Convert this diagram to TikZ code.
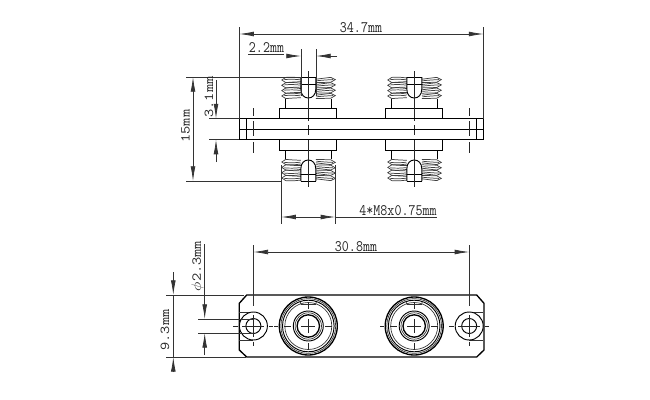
\documentclass[tikz,border=0pt]{standalone}
\usepackage{fontspec}
\usetikzlibrary{arrows.meta}
\tikzset{
  px/.style={x=0.75pt,y=-0.75pt},
  thinline/.style={line width=0.5pt,draw=black!80},
  part/.style={line width=0.7pt,draw=black},
  heavy/.style={line width=1pt,draw=black},
  threadline/.style={line width=0.55pt,draw=black!75},
  dimarrow/.style={line width=0.55pt,draw=black!80,
    {Latex[length=11pt,width=3.6pt]}-{Latex[length=11pt,width=3.6pt]}},
  endarrow/.style={line width=0.55pt,draw=black!80,-{Latex[length=11pt,width=3.6pt]}},
  dimtext/.style={font=\ttfamily\fontsize{12}{12}\selectfont,inner sep=0pt,text=black!85,xscale=0.85},
  centerline/.style={line width=0.5pt,draw=black!85}
}
\newcommand{\threadset}{%
  \foreach \t in {3,8.3,13.6,19}{
    \draw[threadline] (-7.5,\t-2) .. controls (-14,\t-3) and (-19,\t-3) .. (-22.5,\t-2.6) -- (-26.5,\t) -- (-22.5,\t+2.6) .. controls (-18,\t+2.2) and (-12,\t+1.8) .. (-7.5,\t+1.8);
    \draw[threadline] (-24,\t-0.4) .. controls (-18,\t-1) and (-13,\t-0.8) .. (-8,\t-0.2);
    \draw[threadline] (7.5,\t-0.8) .. controls (13,\t-1.4) and (18,\t-2.2) .. (22.5,\t-2.6) -- (27,\t-0.4) -- (22.5,\t+2.2) .. controls (18,\t+2.4) and (13,\t+2.4) .. (7.5,\t+2.6);
    \draw[threadline] (8,\t+0.8) .. controls (14,\t+0.2) and (19,\t-0.2) .. (24.5,\t-0.4);
  }
  \draw[part] (-7.5,0) -- (7.5,0);
  \draw[part] (-7.5,0) -- (-7.5,12) .. controls (-7.5,18) and (-4,21) .. (0,21) .. controls (4,21) and (7.5,18) .. (7.5,12) -- (7.5,0);
  \draw[part] (-7.5,7) -- (7.5,7);
  \draw[part] (-22.5,22) -- (-22.5,31);
  \draw[part] (23,22) -- (23,31);
  \draw[part] (-28.5,41.5) -- (-28.5,31) -- (28.5,31) -- (28.5,41.5);
}
\newcommand{\bigbush}[1]{%
  \begin{scope}[shift={(#1,326)}]
    \draw[heavy] (0,0) circle (29);
    \draw[thinline] (0,0) circle (27.4);
    \draw[part] (0,0) circle (25.8);
    \draw[thinline] (0,0) circle (23.5);
    \draw[part] (0,0) circle (15);
    \draw[thinline] (0,0) circle (13.2);
    \draw[heavy] (0,0) circle (11.2);
    \draw[thinline] (-7.5,-21.8) -- (7.5,-21.8);
    \draw[thinline] (-7.5,-21.8) -- (-8,-24);
    \draw[thinline] (7.5,-21.8) -- (8,-24);
    \draw[centerline] (-7,0) -- (7,0);
    \draw[centerline] (0,-7) -- (0,7);
    \draw[centerline] (-24,0) -- (-17,0);
    \draw[centerline] (17,0) -- (24,0);
    \draw[centerline] (0,-24) -- (0,-17);
    \draw[centerline] (0,17) -- (0,24);
    \draw[centerline] (-34,0) -- (-30,0);
  \end{scope}
}
\newcommand{\lughole}[1]{%
  \begin{scope}[shift={(#1,326)}]
    \draw[part,fill=white] (0,0) circle (14);
    \draw[part] (0,0) circle (7.5);
    \draw[centerline] (-20,0) -- (-15.5,0);
    \draw[centerline] (-11,0) -- (11,0);
    \draw[centerline] (15.5,0) -- (20,0);
    \draw[centerline] (0,-11) -- (0,11);
    \draw[centerline] (0,15.5) -- (0,20);
  \end{scope}
}
\begin{document}
\begin{tikzpicture}[px]
\useasboundingbox (0,0) rectangle (650,400);
\fill[white] (0,0) rectangle (650,400);

% top view: threaded bushings
\foreach \cx in {308.3,414.3}{
  \begin{scope}[shift={(\cx,77)}]\threadset\end{scope}
  \begin{scope}[shift={(\cx,181)},yscale=-1]\threadset\end{scope}
  \draw[centerline] (\cx,71) -- (\cx,121);
  \draw[centerline] (\cx,125) -- (\cx,135);
  \draw[centerline] (\cx,139) -- (\cx,187);
}
% plate, side view
\draw[part] (239.3,118.5) rectangle (483.5,139.6);
\draw[part] (239.3,129) -- (483.5,129);
\draw[part] (246.7,118.5) -- (246.7,139.6);
\draw[part] (476.2,118.5) -- (476.2,139.6);
\draw[centerline] (253,108) -- (253,116);
\draw[centerline] (253,121) -- (253,136);
\draw[centerline] (253,142) -- (253,153);
\draw[centerline] (469,108) -- (469,116);
\draw[centerline] (469,121) -- (469,136);
\draw[centerline] (469,142) -- (469,153);

% 34.7mm
\draw[thinline] (239.3,27) -- (239.3,118.5);
\draw[thinline] (483.5,27) -- (483.5,118.5);
\draw[dimarrow] (239.3,34) -- (483.5,34);
\node[dimtext] (t347) at (361,27.5) {34.7mm};

% 2.2mm
\draw[thinline] (301,49) -- (301,96);
\draw[thinline] (316,49) -- (316,96);
\draw[thinline] (248,54) -- (284,54);
\draw[endarrow] (287,56) -- (301,56);
\draw[endarrow] (337,56) -- (316,56);
\node[dimtext] (t22) at (266.5,48) {2.2mm};

% 15mm
\draw[thinline] (186,77) -- (300,77);
\draw[thinline] (186,181) -- (282,181);
\draw[dimarrow] (193,77) -- (193,181);
\node[dimtext,rotate=90] (t15) at (185.5,126) {15mm};

% 3.1mm
\draw[thinline] (209,118.5) -- (239.3,118.5);
\draw[thinline] (209,139.6) -- (239.3,139.6);
\draw[endarrow] (216,80) -- (216,118.5);
\draw[endarrow] (216,162) -- (216,139.6);
\node[dimtext,rotate=90] (t31) at (209,97) {3.1mm};

% 4*M8x0.75mm
\draw[thinline] (281.3,165) -- (281.3,224);
\draw[thinline] (335.3,165) -- (335.3,224);
\draw[dimarrow] (281.3,217) -- (335.3,217);
\draw[thinline] (335.3,217) -- (437,217);
\node[dimtext] (t48) at (398,211) {4*M8x0.75mm};

% front view: plate
\draw[heavy] (246.7,295) -- (476.7,295) -- (484,303.3) -- (484,350) -- (476.7,357) -- (246.7,357) -- (239.3,350) -- (239.3,303.3) -- cycle;
\draw[thinline] (239.3,312) -- (253,312);
\draw[thinline] (239.3,340) -- (253,340);
\draw[thinline] (469,312) -- (483,312);
\draw[thinline] (469,340) -- (483,340);
\bigbush{308.3}
\bigbush{414.2}
\lughole{253.4}
\lughole{469.2}

% 30.8mm
\draw[thinline] (253.4,245) -- (253.4,306);
\draw[thinline] (469.3,245) -- (469.3,306);
\draw[dimarrow] (253.4,252) -- (469.3,252);
\node[dimtext] (t308) at (356,246.5) {30.8mm};

% 9.3mm
\draw[thinline] (166,295) -- (244,295);
\draw[thinline] (166,357) -- (246,357);
\draw[endarrow] (173.3,272) -- (173.3,295);
\draw[endarrow] (173.3,372) -- (173.3,357);
\draw[thinline] (173.3,295) -- (173.3,357);
\node[dimtext,rotate=90] (t93) at (165,330) {9.3mm};

% phi 2.3mm
\draw[thinline] (198,319) -- (253,319);
\draw[thinline] (198,333) -- (253,333);
\draw[endarrow] (204.7,244) -- (204.7,319);
\draw[endarrow] (204.7,355) -- (204.7,333);
\node[dimtext,rotate=90] (t23) at (197.5,266) {$\phi$2.3mm};
\end{tikzpicture}
\end{document}
